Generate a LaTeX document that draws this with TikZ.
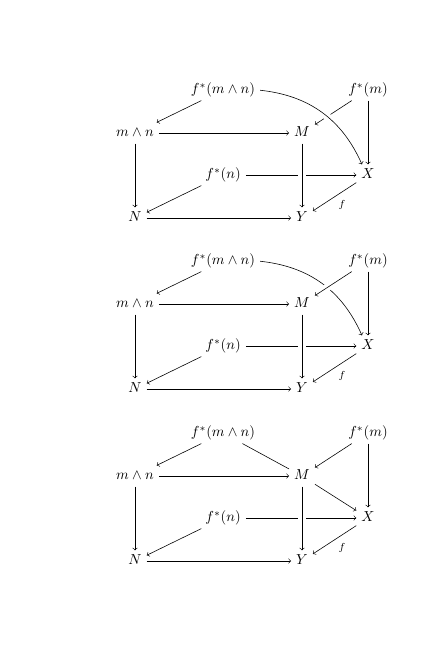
\documentclass[tikz,border=0pt]{standalone}

\begin{document}
\begin{tikzpicture}[x=0.69pt, y=0.69pt,
  obj/.style={text height=1.5ex, text depth=.25ex},
  cdarrow/.style={->},
  crossover/.style={preaction={draw=white, -, line width=5pt}},
  flabel/.style={midway, below right, inner sep=2.5pt, font=\scriptsize}]

  \useasboundingbox (0,0) rectangle (440,-650);

  \foreach \d/\yo in {a/0, b/-171, c/-343} {
    % objects
    \node[obj] (fmn\d) at (223,\yo-90) {$f^*(m\wedge n)$};
    \node[obj] (fm\d) at (368,\yo-90) {$f^*(m)$};
    \node[obj] (mn\d) at (135,\yo-133) {$m\wedge n$};
    \node[obj] (M\d) at (302,\yo-133) {$M$};
    \node[obj] (fn\d) at (223,\yo-175) {$f^*(n)$};
    \node[obj] (X\d) at (368,\yo-175) {$X$};
    \node[obj] (N\d) at (135,\yo-218) {$N$};
    \node[obj] (Y\d) at (302,\yo-218) {$Y$};

    % arrows shared by all three squares
    \draw[cdarrow] (fmn\d) -- (mn\d);
    \draw[cdarrow] (mn\d) -- (M\d);
    \draw[cdarrow] (mn\d) -- (N\d);
    \draw[cdarrow] (fn\d) -- (N\d);
    \draw[cdarrow] (N\d) -- (Y\d);
    \draw[cdarrow] (fn\d) -- (X\d);
    \draw[cdarrow, crossover] (M\d) -- (Y\d);
    \draw[cdarrow] (X\d) -- node[flabel] {$f$} (Y\d);
  }

  % top: the curved arrow passes over f^*(m) -> M
  \draw[cdarrow] (fma) -- (Ma);
  \draw[cdarrow, crossover] (fmna) to[bend left] (Xa);
  \draw[cdarrow] (fma) -- (Xa);

  % middle: f^*(m) -> M passes over the curved arrow
  \draw[cdarrow] (fmnb) to[bend left] (Xb);
  \draw[cdarrow, crossover] (fmb) -- (Mb);
  \draw[cdarrow] (fmb) -- (Xb);

  % bottom: through M instead
  \draw (fmnc) -- (Mc);
  \draw[cdarrow] (Mc) -- (Xc);
  \draw[cdarrow] (fmc) -- (Mc);
  \draw[cdarrow] (fmc) -- (Xc);

\end{tikzpicture}
\end{document}
